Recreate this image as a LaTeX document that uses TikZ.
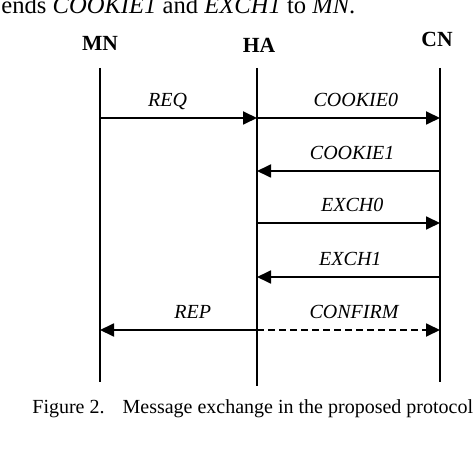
\documentclass[tikz,border=0pt]{standalone}
\usepackage{fontspec}
\setmainfont{Liberation Serif}
\usetikzlibrary{arrows.meta}

\begin{document}
\begin{tikzpicture}[
  x=0.5pt,y=-0.5pt,
  life/.style={line width=1.3pt},
  msg/.style={line width=0.9pt,-{Triangle[length=7pt,width=6.5pt]}},
  entity/.style={font=\fontsize{10.8}{12}\selectfont\bfseries,anchor=base,inner sep=0pt},
  tag/.style={font=\itshape,above=2pt,text depth=0pt}
]
  \useasboundingbox (0,0) rectangle (474,453);
  \clip (0,0) rectangle (474,453);

  \node[anchor=base west,inner sep=0pt,font=\fontsize{12.3}{14}\selectfont] (intro)
    at (1,14) {ends \textit{COOKIE1} and \textit{EXCH1} to \textit{MN}.};

  \node[entity] (mn) at (100,51) {MN};
  \node[entity] (ha) at (259,53) {HA};
  \node[entity] (cn) at (437,47) {CN};

  % lifelines
  \coordinate (mn top) at (100,68);  \coordinate (mn end) at (100,382);
  \coordinate (ha top) at (257,68);  \coordinate (ha end) at (257,386);
  \coordinate (cn top) at (440,68);  \coordinate (cn end) at (440,382);
  \foreach \who in {mn,ha,cn}
    \draw[life] (\who\space top) -- (\who\space end);

  \foreach \n/\y in {1/118,2/171,3/223,4/277,5/330}{
    \coordinate (mn\n) at (100,\y);
    \coordinate (ha\n) at (257,\y);
    \coordinate (cn\n) at (440,\y);
  }

  % messages
  \draw[msg] (mn1) -- node[tag,pos=.43]{REQ} (ha1);
  \draw[msg] (ha1) -- node[tag,pos=.54]{COOKIE0} (cn1);
  \draw[msg] (cn2) -- node[tag,pos=.48]{COOKIE1} (ha2);
  \draw[msg] (ha3) -- node[tag,pos=.52]{EXCH0} (cn3);
  \draw[msg] (cn4) -- node[tag,pos=.49]{EXCH1} (ha4);
  \draw[msg] (ha5) -- node[tag,pos=.41]{REP} (mn5);
  \draw[msg,dash pattern=on 3.5pt off 2pt] (ha5) -- node[tag,pos=.53]{CONFIRM} (cn5);

  \node[anchor=base west,inner sep=0pt] (caption) at (32,413)
    {Figure 2.\hspace{9pt}Message exchange in the proposed protocol};
\end{tikzpicture}
\end{document}
